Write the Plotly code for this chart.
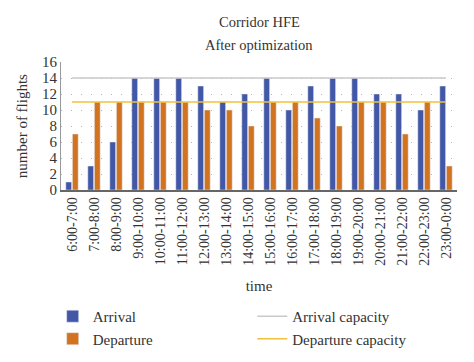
import plotly.graph_objects as go

categories = ["6:00-7:00", "7:00-8:00", "8:00-9:00", "9:00-10:00", "10:00-11:00", "11:00-12:00",
              "12:00-13:00", "13:00-14:00", "14:00-15:00", "15:00-16:00", "16:00-17:00", "17:00-18:00",
              "18:00-19:00", "19:00-20:00", "20:00-21:00", "21:00-22:00", "22:00-23:00", "23:00-0:00"]
arrival = [1, 3, 6, 14, 14, 14, 13, 11, 12, 14, 10, 13, 14, 14, 12, 12, 10, 13]
departure = [7, 11, 11, 11, 11, 11, 10, 10, 8, 11, 11, 9, 8, 11, 11, 7, 11, 3]
arrival_capacity = [14] * len(categories)
departure_capacity = [11] * len(categories)
y_ticks = [0, 2, 4, 6, 8, 10, 12, 14, 16]

FONT = "Liberation Serif"
BLUE = "#4257a6"
ORANGE = "#d2731f"
GRAY = "#c9c9c9"
GOLD = "#f3c03e"
TXT = "#333333"

fig = go.Figure()
fig.add_trace(go.Bar(x=categories, y=arrival, name="Arrival", marker_color=BLUE, legend="legend"))
fig.add_trace(go.Bar(x=categories, y=departure, name="Departure", marker_color=ORANGE, legend="legend"))
fig.add_trace(go.Scatter(x=categories, y=arrival_capacity, name="Arrival capacity", mode="lines",
                         line=dict(color=GRAY, width=1.5), legend="legend2"))
fig.add_trace(go.Scatter(x=categories, y=departure_capacity, name="Departure capacity", mode="lines",
                         line=dict(color=GOLD, width=1.5), legend="legend2"))

legend_common = dict(orientation="v", yanchor="top", y=-0.859, xanchor="left",
                     font=dict(family=FONT, size=15, color=TXT),
                     bgcolor="rgba(0,0,0,0)", tracegroupgap=0, itemwidth=30)

fig.update_layout(
    width=466, height=354,
    margin=dict(l=53, r=17, t=54, b=172, autoexpand=False),
    paper_bgcolor="white", plot_bgcolor="white",
    font=dict(family=FONT, color=TXT),
    barmode="group", bargap=0.4, bargroupgap=0.12,
    legend=dict(x=-0.021, **legend_common),
    legend2=dict(x=0.483, **legend_common),
    annotations=[
        dict(text="Corridor HFE", xref="paper", yref="paper", x=0.5, y=1.31, showarrow=False,
             xanchor="center", yanchor="middle", font=dict(family=FONT, size=14.5, color=TXT)),
        dict(text="After optimization", xref="paper", yref="paper", x=0.5, y=1.13, showarrow=False,
             xanchor="center", yanchor="middle", font=dict(family=FONT, size=14.5, color=TXT)),
        dict(text="number of flights", xref="paper", yref="paper", x=-0.098, y=0.5, showarrow=False,
             textangle=-90, xanchor="center", yanchor="middle",
             font=dict(family=FONT, size=15, color=TXT)),
    ],
    xaxis=dict(type="category", tickangle=-90, tickfont=dict(family=FONT, size=14, color=TXT),
               showline=True, linecolor="#666", linewidth=1.5, ticks="", automargin=False,
               title=dict(text="time", font=dict(family=FONT, size=15, color=TXT), standoff=16),
               showgrid=False),
    yaxis=dict(range=[0, 16], tickvals=y_ticks, tickfont=dict(family=FONT, size=15, color=TXT),
               showline=True, linecolor="#999", linewidth=1, ticks="", automargin=False,
               showgrid=True, gridcolor="#b5b5b5", griddash="1px,9px", gridwidth=1,
               zeroline=False),
)

fig.write_html("out.html")
